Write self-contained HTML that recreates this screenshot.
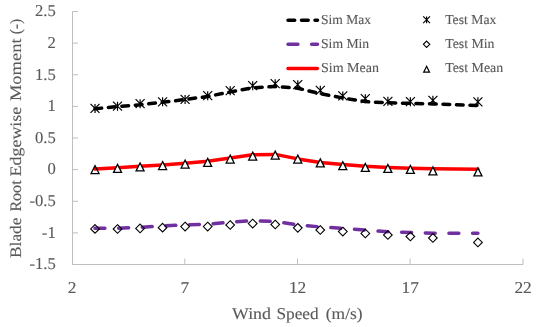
<!DOCTYPE html><html><head><meta charset="utf-8"><title>Blade Root Edgewise Moment</title>
<style>html,body{margin:0;padding:0;background:#fff}svg{display:block}text{font-family:"Liberation Serif",serif;fill:#595959;stroke:#595959;stroke-width:.12px;text-rendering:geometricPrecision}</style></head><body>
<svg width="550" height="327" viewBox="0 0 550 327">
<rect width="550" height="327" fill="#fff"/>
<g stroke="#bfbfbf" stroke-width="1" fill="none">
<path d="M72.5 11.5V264.5H523.0"/>
<path d="M72.5 11.50h5.5"/>
<path d="M72.5 43.12h5.5"/>
<path d="M72.5 74.75h5.5"/>
<path d="M72.5 106.38h5.5"/>
<path d="M72.5 138.00h5.5"/>
<path d="M72.5 169.62h5.5"/>
<path d="M72.5 201.25h5.5"/>
<path d="M72.5 232.88h5.5"/>
<path d="M72.5 264.50h5.5"/>
<path d="M184.80 264.5v-6"/>
<path d="M297.50 264.5v-6"/>
<path d="M410.10 264.5v-6"/>
<path d="M523.00 264.5v-6"/>
</g>
<g font-size="16.6" text-anchor="end">
<text x="55.7" y="16.35">2.5</text>
<text x="55.7" y="47.98">2</text>
<text x="55.7" y="79.60">1.5</text>
<text x="55.7" y="111.22">1</text>
<text x="55.7" y="142.85">0.5</text>
<text x="55.7" y="174.47">0</text>
<text x="55.7" y="206.10">-0.5</text>
<text x="55.7" y="237.72">-1</text>
<text x="55.7" y="269.35">-1.5</text>
</g>
<g font-size="16.6" text-anchor="middle">
<text x="72.0" y="293.4" textLength="8.7" lengthAdjust="spacingAndGlyphs">2</text>
<text x="184.9" y="293.4" textLength="8.7" lengthAdjust="spacingAndGlyphs">7</text>
<text x="297.6" y="293.4" textLength="17.4" lengthAdjust="spacingAndGlyphs">12</text>
<text x="410.2" y="293.4" textLength="17.4" lengthAdjust="spacingAndGlyphs">17</text>
<text x="523.1" y="293.4" textLength="17.4" lengthAdjust="spacingAndGlyphs">22</text>
</g>
<g font-size="16.5">
<text x="232" y="319.3" textLength="39" lengthAdjust="spacingAndGlyphs">Wind</text>
<text x="276.4" y="319.3" textLength="42.2" lengthAdjust="spacingAndGlyphs">Speed</text>
<text x="325.8" y="319.3" textLength="36.8" lengthAdjust="spacingAndGlyphs">(m/s)</text>
</g>
<g font-size="16">
<text transform="translate(20.6 257.9) rotate(-90)" textLength="40.3" lengthAdjust="spacingAndGlyphs">Blade</text>
<text transform="translate(20.6 211.6) rotate(-90)" textLength="31.2" lengthAdjust="spacingAndGlyphs">Root</text>
<text transform="translate(20.6 176.4) rotate(-90)" textLength="69.6" lengthAdjust="spacingAndGlyphs">Edgewise</text>
<text transform="translate(20.6 101.1) rotate(-90)" textLength="62.7" lengthAdjust="spacingAndGlyphs">Moment</text>
<text transform="translate(20.6 34.2) rotate(-90)" textLength="15.3" lengthAdjust="spacingAndGlyphs">(-)</text>
</g>
<path d="M95.0 108.8 L117.5 106.5 L140.1 104.8 L162.6 102.3 L185.1 99.5 L207.7 96.5 L230.2 91.9 L252.7 87.8 L275.2 86.5 L297.8 88.2 L320.3 93.7 L342.8 98.0 L365.3 101.6 L387.9 102.8 L410.4 103.4 L432.9 103.9 L477.9 105.5" stroke="#000" stroke-width="3.5" fill="none" stroke-linecap="round" stroke-linejoin="round" stroke-dasharray="6.7 6.8"/>
<path d="M95.0 228.2 L117.5 228.3 L140.1 227.3 L162.6 226.0 L185.1 224.8 L207.7 224.3 L230.2 222.1 L252.7 220.7 L275.2 221.5 L297.8 224.9 L320.3 226.9 L342.8 228.4 L365.3 230.0 L387.9 231.8 L410.4 232.4 L432.9 233.3 L477.9 233.3" stroke="#7030a0" stroke-width="3.5" fill="none" stroke-linecap="round" stroke-linejoin="round" stroke-dasharray="9.9 13.75"/>
<path d="M95.0 169.0 L117.5 167.7 L140.1 166.3 L162.6 164.9 L185.1 163.2 L207.7 161.2 L230.2 157.9 L252.7 154.7 L275.2 154.4 L297.8 158.9 L320.3 162.4 L342.8 164.5 L365.3 166.2 L387.9 167.4 L410.4 168.2 L432.9 168.7 L477.9 169.2" stroke="#ff0000" stroke-width="3.5" fill="none" stroke-linecap="round" stroke-linejoin="round"/>
<path d="M90.5 103.9L99.5 112.9M99.5 103.9L90.5 112.9M95.0 103.9L95.0 112.9" stroke="#000" stroke-width="1.2" fill="none"/>
<path d="M113.0 101.7L122.0 110.7M122.0 101.7L113.0 110.7M117.5 101.7L117.5 110.7" stroke="#000" stroke-width="1.2" fill="none"/>
<path d="M135.6 99.2L144.6 108.2M144.6 99.2L135.6 108.2M140.1 99.2L140.1 108.2" stroke="#000" stroke-width="1.2" fill="none"/>
<path d="M158.1 97.3L167.1 106.3M167.1 97.3L158.1 106.3M162.6 97.3L162.6 106.3" stroke="#000" stroke-width="1.2" fill="none"/>
<path d="M180.6 94.9L189.6 103.9M189.6 94.9L180.6 103.9M185.1 94.9L185.1 103.9" stroke="#000" stroke-width="1.2" fill="none"/>
<path d="M203.2 91.2L212.2 100.2M212.2 91.2L203.2 100.2M207.7 91.2L207.7 100.2" stroke="#000" stroke-width="1.2" fill="none"/>
<path d="M225.7 86.2L234.7 95.2M234.7 86.2L225.7 95.2M230.2 86.2L230.2 95.2" stroke="#000" stroke-width="1.2" fill="none"/>
<path d="M248.2 81.2L257.2 90.2M257.2 81.2L248.2 90.2M252.7 81.2L252.7 90.2" stroke="#000" stroke-width="1.2" fill="none"/>
<path d="M270.7 79.2L279.7 88.2M279.7 79.2L270.7 88.2M275.2 79.2L275.2 88.2" stroke="#000" stroke-width="1.2" fill="none"/>
<path d="M293.2 80.2L302.2 89.2M302.2 80.2L293.2 89.2M297.8 80.2L297.8 89.2" stroke="#000" stroke-width="1.2" fill="none"/>
<path d="M315.8 85.8L324.8 94.8M324.8 85.8L315.8 94.8M320.3 85.8L320.3 94.8" stroke="#000" stroke-width="1.2" fill="none"/>
<path d="M338.3 91.4L347.3 100.4M347.3 91.4L338.3 100.4M342.8 91.4L342.8 100.4" stroke="#000" stroke-width="1.2" fill="none"/>
<path d="M360.8 94.2L369.8 103.2M369.8 94.2L360.8 103.2M365.3 94.2L365.3 103.2" stroke="#000" stroke-width="1.2" fill="none"/>
<path d="M383.4 96.8L392.4 105.8M392.4 96.8L383.4 105.8M387.9 96.8L387.9 105.8" stroke="#000" stroke-width="1.2" fill="none"/>
<path d="M405.9 97.2L414.9 106.2M414.9 97.2L405.9 106.2M410.4 97.2L410.4 106.2" stroke="#000" stroke-width="1.2" fill="none"/>
<path d="M428.4 95.8L437.4 104.8M437.4 95.8L428.4 104.8M432.9 95.8L432.9 104.8" stroke="#000" stroke-width="1.2" fill="none"/>
<path d="M473.4 97.3L482.4 106.3M482.4 97.3L473.4 106.3M477.9 97.3L477.9 106.3" stroke="#000" stroke-width="1.2" fill="none"/>
<path d="M95.0 224.6L99.4 228.9L95.0 233.2L90.7 228.9Z" stroke="#000" stroke-width="1.1" fill="none"/>
<path d="M117.5 224.7L121.9 229.0L117.5 233.3L113.2 229.0Z" stroke="#000" stroke-width="1.1" fill="none"/>
<path d="M140.1 224.1L144.4 228.4L140.1 232.8L135.7 228.4Z" stroke="#000" stroke-width="1.1" fill="none"/>
<path d="M162.6 223.3L166.9 227.7L162.6 232.0L158.2 227.7Z" stroke="#000" stroke-width="1.1" fill="none"/>
<path d="M185.1 222.2L189.5 226.6L185.1 230.9L180.8 226.6Z" stroke="#000" stroke-width="1.1" fill="none"/>
<path d="M207.7 222.2L212.0 226.6L207.7 230.9L203.3 226.6Z" stroke="#000" stroke-width="1.1" fill="none"/>
<path d="M230.2 220.7L234.5 225.0L230.2 229.3L225.8 225.0Z" stroke="#000" stroke-width="1.1" fill="none"/>
<path d="M252.7 219.2L257.1 223.6L252.7 227.9L248.3 223.6Z" stroke="#000" stroke-width="1.1" fill="none"/>
<path d="M275.2 220.2L279.6 224.5L275.2 228.8L270.9 224.5Z" stroke="#000" stroke-width="1.1" fill="none"/>
<path d="M297.8 223.5L302.1 227.8L297.8 232.2L293.4 227.8Z" stroke="#000" stroke-width="1.1" fill="none"/>
<path d="M320.3 225.7L324.6 230.0L320.3 234.3L315.9 230.0Z" stroke="#000" stroke-width="1.1" fill="none"/>
<path d="M342.8 227.2L347.2 231.6L342.8 235.9L338.4 231.6Z" stroke="#000" stroke-width="1.1" fill="none"/>
<path d="M365.3 229.1L369.7 233.4L365.3 237.8L361.0 233.4Z" stroke="#000" stroke-width="1.1" fill="none"/>
<path d="M387.9 230.7L392.2 235.0L387.9 239.3L383.5 235.0Z" stroke="#000" stroke-width="1.1" fill="none"/>
<path d="M410.4 232.2L414.7 236.5L410.4 240.8L406.0 236.5Z" stroke="#000" stroke-width="1.1" fill="none"/>
<path d="M432.9 233.7L437.2 238.0L432.9 242.3L428.5 238.0Z" stroke="#000" stroke-width="1.1" fill="none"/>
<path d="M477.9 238.1L482.3 242.4L477.9 246.8L473.6 242.4Z" stroke="#000" stroke-width="1.1" fill="none"/>
<path d="M95.0 165.60L99.03 173.55L91.03 173.55Z" stroke="#000" stroke-width="1.3" fill="none"/>
<path d="M117.5 164.40L121.55 172.35L113.55 172.35Z" stroke="#000" stroke-width="1.3" fill="#fff"/>
<path d="M140.1 163.00L144.07 170.95L136.07 170.95Z" stroke="#000" stroke-width="1.3" fill="#fff"/>
<path d="M162.6 161.60L166.60 169.55L158.60 169.55Z" stroke="#000" stroke-width="1.3" fill="#fff"/>
<path d="M185.1 160.10L189.12 168.05L181.12 168.05Z" stroke="#000" stroke-width="1.3" fill="#fff"/>
<path d="M207.7 158.40L211.65 166.35L203.65 166.35Z" stroke="#000" stroke-width="1.3" fill="#fff"/>
<path d="M230.2 155.10L234.18 163.05L226.18 163.05Z" stroke="#000" stroke-width="1.3" fill="#fff"/>
<path d="M252.7 152.10L256.70 160.05L248.70 160.05Z" stroke="#000" stroke-width="1.3" fill="#fff"/>
<path d="M275.2 151.10L279.23 159.05L271.23 159.05Z" stroke="#000" stroke-width="1.3" fill="#fff"/>
<path d="M297.8 155.10L301.75 163.05L293.75 163.05Z" stroke="#000" stroke-width="1.3" fill="#fff"/>
<path d="M320.3 158.90L324.27 166.85L316.27 166.85Z" stroke="#000" stroke-width="1.3" fill="#fff"/>
<path d="M342.8 161.70L346.80 169.65L338.80 169.65Z" stroke="#000" stroke-width="1.3" fill="#fff"/>
<path d="M365.3 163.50L369.32 171.45L361.32 171.45Z" stroke="#000" stroke-width="1.3" fill="#fff"/>
<path d="M387.9 164.50L391.85 172.45L383.85 172.45Z" stroke="#000" stroke-width="1.3" fill="#fff"/>
<path d="M410.4 165.50L414.38 173.45L406.38 173.45Z" stroke="#000" stroke-width="1.3" fill="#fff"/>
<path d="M432.9 166.90L436.90 174.85L428.90 174.85Z" stroke="#000" stroke-width="1.3" fill="#fff"/>
<path d="M477.9 167.90L481.95 175.85L473.95 175.85Z" stroke="#000" stroke-width="1.3" fill="#fff"/>
<path d="M288.0 20.3H317.5" stroke="#000" stroke-width="3.5" stroke-linecap="round" stroke-dasharray="6.7 6.8"/>
<path d="M288.0 44.3H317.5" stroke="#7030a0" stroke-width="3.5" stroke-linecap="round" stroke-dasharray="9.9 13.75"/>
<path d="M288.0 68.4H317.3" stroke="#ff0000" stroke-width="3.5" stroke-linecap="round"/>
<path d="M423.2 16.4L430.0 23.2M430.0 16.4L423.2 23.2M426.6 16.4L426.6 23.2" stroke="#000" stroke-width="1.15" fill="none"/>
<path d="M426.6 41.1L429.8 44.3L426.6 47.5L423.4 44.3Z" stroke="#000" stroke-width="1.1" fill="none"/>
<path d="M426.6 66.30L429.50 72.20L423.70 72.20Z" stroke="#000" stroke-width="1.2" fill="#fff"/>
<g font-size="13.6">
<text x="321.0" y="24.0" textLength="50" lengthAdjust="spacingAndGlyphs">Sim Max</text>
<text x="321.0" y="47.9" textLength="48.2" lengthAdjust="spacingAndGlyphs">Sim Min</text>
<text x="321.0" y="71.9" textLength="58" lengthAdjust="spacingAndGlyphs">Sim Mean</text>
<text x="445.2" y="24.0" textLength="51.2" lengthAdjust="spacingAndGlyphs">Test Max</text>
<text x="445.2" y="47.9" textLength="49.3" lengthAdjust="spacingAndGlyphs">Test Min</text>
<text x="445.2" y="71.9" textLength="58" lengthAdjust="spacingAndGlyphs">Test Mean</text>
</g>
</svg></body></html>
